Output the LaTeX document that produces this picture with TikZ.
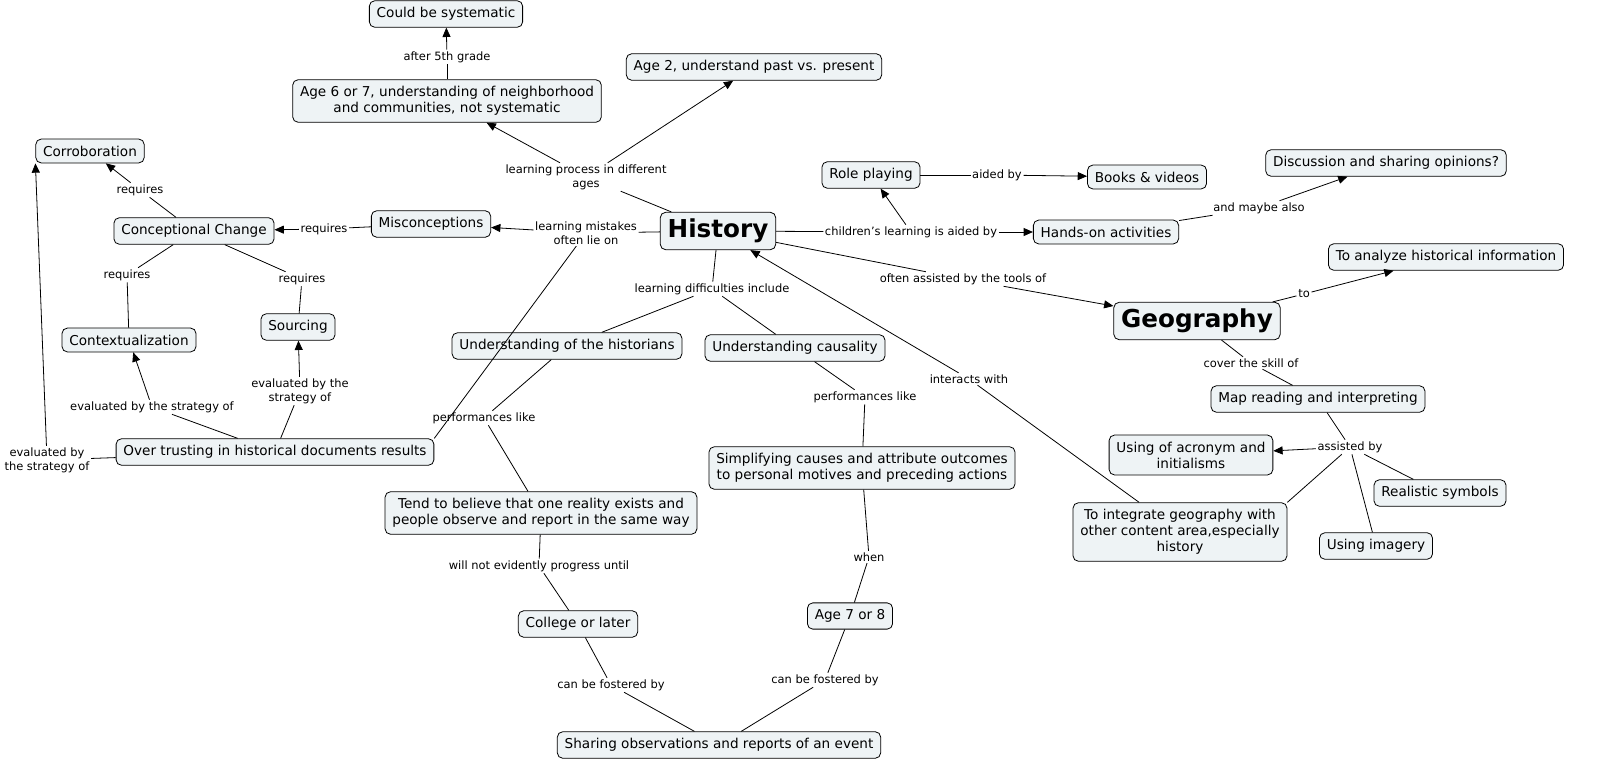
\documentclass[tikz,border=0pt]{standalone}
\usepackage{fontspec}
\setmainfont{DejaVu Sans}
\usetikzlibrary{arrows.meta}
\definecolor{boxfill}{HTML}{EEF3F5}
\begin{document}
\begin{tikzpicture}[x=0.75pt,y=-0.75pt,
  box/.style={draw,rounded corners=4pt,fill=boxfill,font=\fontsize{10.2}{12}\selectfont,inner xsep=5.5pt,inner ysep=5pt,align=center},
  big/.style={box,font=\fontsize{18.5}{21}\selectfont\bfseries,inner ysep=5pt},
  lab/.style={font=\fontsize{8.6}{10.4}\selectfont,align=center,inner sep=1pt,fill=white},
  arr/.style={-{Triangle[length=7pt,width=6pt]}},
  every path/.style={line width=0.6pt}]
\useasboundingbox (0,0) rectangle (1597,778);
\node[box] (sys) at (446,14) {Could be systematic};
\node[box] (age67) at (447,101) {Age 6 or 7, understanding of neighborhood\\and communities, not systematic};
\node[box] (age2) at (754,67) {Age 2, understand past vs. present};
\node[box] (corr) at (90,151) {Corroboration};
\node[box] (discuss) at (1386,163) {Discussion and sharing opinions?};
\node[box] (role) at (871,175) {Role playing};
\node[box] (books) at (1147,177) {Books \& videos};
\node[box] (concept) at (194,231) {Conceptional Change};
\node[box] (misc) at (431,224) {Misconceptions};
\node[big] (history) at (718,231) {History};
\node[box] (hands) at (1106,232) {Hands-on activities};
\node[box] (analyze) at (1446,257) {To analyze historical information};
\node[big] (geo) at (1197,321) {Geography};
\node[box] (context) at (129,340) {Contextualization};
\node[box] (sourcing) at (298,327) {Sourcing};
\node[box] (underhist) at (567,346) {Understanding of the historians};
\node[box] (undercaus) at (795,348) {Understanding causality};
\node[box] (map) at (1318,399) {Map reading and interpreting};
\node[box] (acronym) at (1191,455) {Using of acronym and\\initialisms};
\node[box] (overtrust) at (275,452) {Over trusting in historical documents results};
\node[box] (simplify) at (862,468) {Simplifying causes and attribute outcomes\\to personal motives and preceding actions};
\node[box] (realistic) at (1440,493) {Realistic symbols};
\node[box] (tend) at (541,513) {Tend to believe that one reality exists and\\people observe and report in the same way};
\node[box] (integrate) at (1180,532) {To integrate geography with\\other content area,especially\\history};
\node[box] (imagery) at (1376,546) {Using imagery};
\node[box] (college) at (578,624) {College or later};
\node[box] (age78) at (850,616) {Age 7 or 8};
\node[box] (sharing) at (719,745) {Sharing observations and reports of an event};
% labels
\node[lab] (l1) at (447,57) {after 5th grade};
\node[lab] (l2) at (586,177) {learning process in different\\ages};
\node[lab] (l3) at (586,233) {learning mistakes\\often lie on};
\node[lab] (l4) at (324,229) {requires};
\node[lab] (l5) at (140,190) {requires};
\node[lab] (l6) at (127,275) {requires};
\node[lab] (l7) at (302,279) {requires};
\node[lab] (l8) at (152,407) {evaluated by the strategy of};
\node[lab] (l9) at (300,391) {evaluated by the\\strategy of};
\node[lab] (l10) at (47,460) {evaluated by\\the strategy of};
\node[lab] (l11) at (712,289) {learning difficulties include};
\node[lab] (l12) at (484,418) {performances like};
\node[lab] (l13) at (865,397) {performances like};
\node[lab] (l14) at (539,566) {will not evidently progress until};
\node[lab] (l15) at (869,557) {when};
\node[lab] (l16) at (611,685) {can be fostered by};
\node[lab] (l17) at (825,680) {can be fostered by};
\node[lab] (l18) at (911,232) {children's learning is aided by};
\node[lab] (l19) at (997,175) {aided by};
\node[lab] (l20) at (1259,208) {and maybe also};
\node[lab] (l21) at (963,279) {often assisted by the tools of};
\node[lab] (l22) at (1304,294) {to};
\node[lab] (l23) at (1251,363) {cover the skill of};
\node[lab] (l24) at (1350,447) {assisted by};
\node[lab] (l25) at (969,379) {interacts with};
% edges
\draw (age67) -- (l1); \draw[arr] (l1) -- (sys);
\draw (history) -- (l2); \draw[arr] (l2) -- (age67); \draw[arr] (l2) -- (age2);
\draw (history) -- (l3); \draw[arr] (l3) -- (misc); \draw (l3) -- (overtrust.north east);
\draw (misc) -- (l4); \draw[arr] (l4) -- (concept);
\draw (concept) -- (l5); \draw[arr] (l5) -- (corr);
\draw (concept) -- (l6) -- (context);
\draw (concept) -- (l7) -- (sourcing);
\draw (overtrust) -- (l8); \draw[arr] (l8) -- (context);
\draw (overtrust) -- (l9); \draw[arr] (l9) -- (sourcing);
\draw (overtrust) -- (l10); \draw[arr] (l10) -- (corr.south west);
\draw (history) -- (l11) -- (underhist); \draw (l11) -- (undercaus);
\draw (underhist) -- (l12) -- (tend);
\draw (undercaus) -- (l13) -- (simplify);
\draw (tend) -- (l14) -- (college);
\draw (simplify) -- (l15) -- (age78);
\draw (college) -- (l16) -- (sharing);
\draw (age78) -- (l17) -- (sharing);
\draw (history) -- (l18); \draw[arr] (l18) -- (hands); \draw[arr] (l18) -- (role);
\draw (role) -- (l19); \draw[arr] (l19) -- (books);
\draw (hands) -- (l20); \draw[arr] (l20) -- (discuss);
\draw (history) -- (l21); \draw[arr] (l21) -- (geo);
\draw (geo) -- (l22); \draw[arr] (l22) -- (analyze);
\draw (geo) -- (l23) -- (map);
\draw (map) -- (l24); \draw[arr] (l24) -- (acronym); \draw (l24) -- (realistic); \draw (l24) -- (imagery); \draw (l24) -- (integrate.north east);
\draw (integrate) -- (l25); \draw[arr] (l25) -- (history);
\end{tikzpicture}
\end{document}
